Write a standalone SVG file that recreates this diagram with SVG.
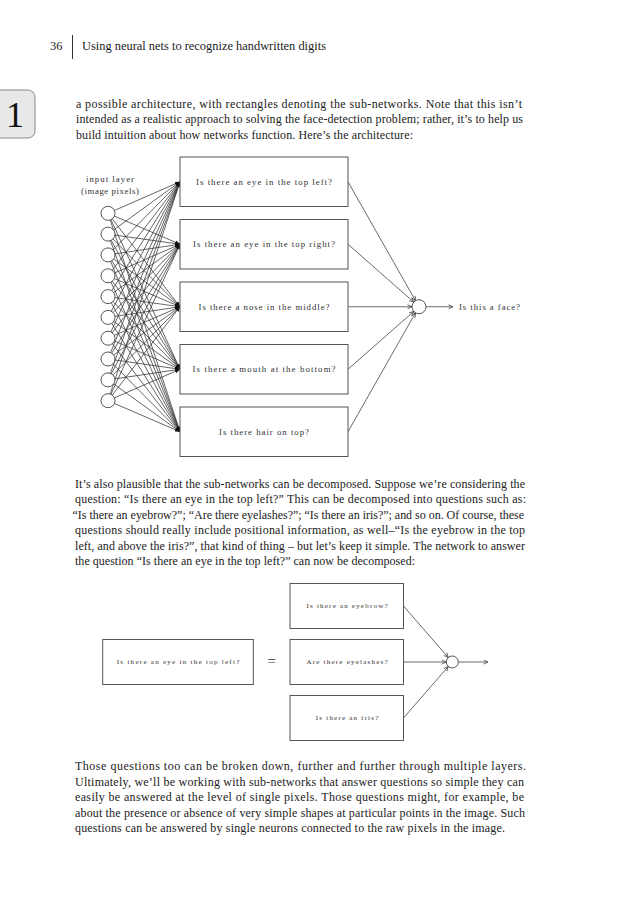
<svg xmlns="http://www.w3.org/2000/svg" width="638" height="901" viewBox="0 0 638 901">
<style>
.body{font-family:"Liberation Serif","Times New Roman",serif;font-size:12px;fill:#222}
.hdr{font-family:"Liberation Serif","Times New Roman",serif;font-size:12.5px;fill:#222}
.dt{font-family:"Liberation Serif","Times New Roman",serif;font-size:8.8px;fill:#333;text-anchor:middle}
.dt2{font-family:"Liberation Serif","Times New Roman",serif;font-size:7px;fill:#333;text-anchor:middle}
.box{fill:#fff;stroke:#555;stroke-width:1}
.neu{fill:#fff;stroke:#444;stroke-width:0.9}
.c{stroke:#333;stroke-width:0.75;fill:none;marker-end:url(#ah)}
.o{stroke:#444;stroke-width:0.8;fill:none;marker-end:url(#ah2)}
</style>
<defs>
<marker id="ah" markerUnits="userSpaceOnUse" markerWidth="5" markerHeight="4" refX="5" refY="2" orient="auto"><path d="M0,0 L5,2 L0,4 z" fill="#111"/></marker>
<marker id="ah2" markerUnits="userSpaceOnUse" markerWidth="5" markerHeight="5" refX="5" refY="2.5" orient="auto"><path d="M0.5,0.5 L5,2.5 L0.5,4.5" fill="none" stroke="#444" stroke-width="0.8"/></marker>
</defs>
<rect width="638" height="901" fill="#fff"/>

<g id="header">
<text class="hdr" x="50" y="50">36</text>
<line x1="72.5" y1="35" x2="72.5" y2="59" stroke="#333" stroke-width="1"/>
<text class="hdr" x="82" y="50" textLength="244" lengthAdjust="spacingAndGlyphs">Using neural nets to recognize handwritten digits</text>
</g>

<g id="tab">
<rect x="-10" y="90" width="45" height="48" rx="7" fill="#e8e8e8" stroke="#8a8a8a" stroke-width="1"/>
<text x="15" y="127" font-family="Liberation Serif, serif" font-size="36" fill="#111" text-anchor="middle">1</text>
</g>

<g id="para1" class="body">
<text x="76" y="107.5" textLength="446" lengthAdjust="spacing">a possible architecture, with rectangles denoting the sub-networks.  Note that this isn’t</text>
<text x="76" y="123" textLength="447" lengthAdjust="spacing">intended as a realistic approach to solving the face-detection problem; rather, it’s to help us</text>
<text x="76" y="138.5" textLength="337" lengthAdjust="spacing">build intuition about how networks function.  Here’s the architecture:</text>
</g>

<g id="connectors1">
<line class="c" x1="108" y1="213.3" x2="180" y2="181.75"/><line class="c" x1="108" y1="213.3" x2="180" y2="244.25"/><line class="c" x1="108" y1="213.3" x2="180" y2="306.75"/><line class="c" x1="108" y1="213.3" x2="180" y2="369.25"/><line class="c" x1="108" y1="213.3" x2="180" y2="431.75"/>
<line class="c" x1="108" y1="234.1" x2="180" y2="181.75"/><line class="c" x1="108" y1="234.1" x2="180" y2="244.25"/><line class="c" x1="108" y1="234.1" x2="180" y2="306.75"/><line class="c" x1="108" y1="234.1" x2="180" y2="369.25"/><line class="c" x1="108" y1="234.1" x2="180" y2="431.75"/>
<line class="c" x1="108" y1="254.9" x2="180" y2="181.75"/><line class="c" x1="108" y1="254.9" x2="180" y2="244.25"/><line class="c" x1="108" y1="254.9" x2="180" y2="306.75"/><line class="c" x1="108" y1="254.9" x2="180" y2="369.25"/><line class="c" x1="108" y1="254.9" x2="180" y2="431.75"/>
<line class="c" x1="108" y1="275.8" x2="180" y2="181.75"/><line class="c" x1="108" y1="275.8" x2="180" y2="244.25"/><line class="c" x1="108" y1="275.8" x2="180" y2="306.75"/><line class="c" x1="108" y1="275.8" x2="180" y2="369.25"/><line class="c" x1="108" y1="275.8" x2="180" y2="431.75"/>
<line class="c" x1="108" y1="296.6" x2="180" y2="181.75"/><line class="c" x1="108" y1="296.6" x2="180" y2="244.25"/><line class="c" x1="108" y1="296.6" x2="180" y2="306.75"/><line class="c" x1="108" y1="296.6" x2="180" y2="369.25"/><line class="c" x1="108" y1="296.6" x2="180" y2="431.75"/>
<line class="c" x1="108" y1="317.4" x2="180" y2="181.75"/><line class="c" x1="108" y1="317.4" x2="180" y2="244.25"/><line class="c" x1="108" y1="317.4" x2="180" y2="306.75"/><line class="c" x1="108" y1="317.4" x2="180" y2="369.25"/><line class="c" x1="108" y1="317.4" x2="180" y2="431.75"/>
<line class="c" x1="108" y1="338.2" x2="180" y2="181.75"/><line class="c" x1="108" y1="338.2" x2="180" y2="244.25"/><line class="c" x1="108" y1="338.2" x2="180" y2="306.75"/><line class="c" x1="108" y1="338.2" x2="180" y2="369.25"/><line class="c" x1="108" y1="338.2" x2="180" y2="431.75"/>
<line class="c" x1="108" y1="359" x2="180" y2="181.75"/><line class="c" x1="108" y1="359" x2="180" y2="244.25"/><line class="c" x1="108" y1="359" x2="180" y2="306.75"/><line class="c" x1="108" y1="359" x2="180" y2="369.25"/><line class="c" x1="108" y1="359" x2="180" y2="431.75"/>
<line class="c" x1="108" y1="379.9" x2="180" y2="181.75"/><line class="c" x1="108" y1="379.9" x2="180" y2="244.25"/><line class="c" x1="108" y1="379.9" x2="180" y2="306.75"/><line class="c" x1="108" y1="379.9" x2="180" y2="369.25"/><line class="c" x1="108" y1="379.9" x2="180" y2="431.75"/>
<line class="c" x1="108" y1="400.7" x2="180" y2="181.75"/><line class="c" x1="108" y1="400.7" x2="180" y2="244.25"/><line class="c" x1="108" y1="400.7" x2="180" y2="306.75"/><line class="c" x1="108" y1="400.7" x2="180" y2="369.25"/><line class="c" x1="108" y1="400.7" x2="180" y2="431.75"/>
<line class="o" x1="348" y1="181.75" x2="415.5" y2="300.7"/>
<line class="o" x1="348" y1="244.25" x2="413.8" y2="302.1"/>
<line class="o" x1="348" y1="306.75" x2="412" y2="306.75"/>
<line class="o" x1="348" y1="369.25" x2="413.8" y2="311.4"/>
<line class="o" x1="348" y1="431.75" x2="415.5" y2="312.8"/>
<line class="o" x1="426" y1="306.75" x2="453" y2="306.75"/>
</g>

<g id="input-layer">
<text class="dt" x="110" y="182" textLength="48" lengthAdjust="spacing">input layer</text>
<text class="dt" x="110" y="193.5" textLength="58" lengthAdjust="spacing">(image pixels)</text>
<circle class="neu" cx="108" cy="213.3" r="7"/>
<circle class="neu" cx="108" cy="234.1" r="7"/>
<circle class="neu" cx="108" cy="254.9" r="7"/>
<circle class="neu" cx="108" cy="275.8" r="7"/>
<circle class="neu" cx="108" cy="296.6" r="7"/>
<circle class="neu" cx="108" cy="317.4" r="7"/>
<circle class="neu" cx="108" cy="338.2" r="7"/>
<circle class="neu" cx="108" cy="359" r="7"/>
<circle class="neu" cx="108" cy="379.9" r="7"/>
<circle class="neu" cx="108" cy="400.7" r="7"/>
</g>

<g id="box-eye-left"><rect class="box" x="180" y="157" width="168" height="49.5"/><text class="dt" x="264" y="184.5" textLength="136" lengthAdjust="spacing">Is there an eye in the top left?</text></g>
<g id="box-eye-right"><rect class="box" x="180" y="219.5" width="168" height="49.5"/><text class="dt" x="264" y="247" textLength="142" lengthAdjust="spacing">Is there an eye in the top right?</text></g>
<g id="box-nose"><rect class="box" x="180" y="282" width="168" height="49.5"/><text class="dt" x="264" y="309.5" textLength="131" lengthAdjust="spacing">Is there a nose in the middle?</text></g>
<g id="box-mouth"><rect class="box" x="180" y="344.5" width="168" height="49.5"/><text class="dt" x="264" y="372" textLength="143" lengthAdjust="spacing">Is there a mouth at the bottom?</text></g>
<g id="box-hair"><rect class="box" x="180" y="407" width="168" height="49.5"/><text class="dt" x="264" y="434.5" textLength="90" lengthAdjust="spacing">Is there hair on top?</text></g>

<g id="face-neuron">
<circle class="neu" cx="419" cy="306.75" r="7"/>
<text class="dt" x="459" y="309.5" style="text-anchor:start" textLength="61" lengthAdjust="spacing">Is this a face?</text>
</g>

<g id="para2" class="body">
<text x="75" y="487.5" textLength="450" lengthAdjust="spacing">It’s also plausible that the sub-networks can be decomposed. Suppose we’re considering the</text>
<text x="75" y="503" textLength="451" lengthAdjust="spacing">question:  “Is there an eye in the top left?” This can be decomposed into questions such as:</text>
<text x="72.5" y="518.5" textLength="451.5" lengthAdjust="spacing">“Is there an eyebrow?”; “Are there eyelashes?”; “Is there an iris?”; and so on. Of course, these</text>
<text x="75" y="534" textLength="450" lengthAdjust="spacing">questions should really include positional information, as well–“Is the eyebrow in the top</text>
<text x="75" y="549.5" textLength="450" lengthAdjust="spacing">left, and above the iris?”, that kind of thing – but let’s keep it simple. The network to answer</text>
<text x="75" y="565" textLength="340" lengthAdjust="spacing">the question “Is there an eye in the top left?” can now be decomposed:</text>
</g>

<g id="connectors2">
<line class="o" x1="403.5" y1="606" x2="448.3" y2="657.5"/>
<line class="o" x1="403.5" y1="662" x2="446.3" y2="662"/>
<line class="o" x1="403.5" y1="718" x2="448.3" y2="666.5"/>
<line class="o" x1="458.3" y1="662" x2="488" y2="662"/>
</g>

<g id="box-eye-left-2"><rect class="box" x="102.7" y="639.5" width="150.6" height="45"/><text class="dt2" x="178" y="664" textLength="122.5" lengthAdjust="spacing">Is there an eye in the top left?</text></g>
<g id="equals"><text x="271.7" y="666" font-family="Liberation Serif, serif" font-size="15" fill="#333" text-anchor="middle">=</text></g>
<g id="box-eyebrow"><rect class="box" x="290" y="583.5" width="113.5" height="45"/><text class="dt2" x="347" y="608.3" textLength="81" lengthAdjust="spacing">Is there an eyebrow?</text></g>
<g id="box-eyelashes"><rect class="box" x="290" y="639.5" width="113.5" height="45"/><text class="dt2" x="347" y="664.3" textLength="81" lengthAdjust="spacing">Are there eyelashes?</text></g>
<g id="box-iris"><rect class="box" x="290" y="695.5" width="113.5" height="45"/><text class="dt2" x="347" y="720.3" textLength="62.5" lengthAdjust="spacing">Is there an iris?</text></g>
<g id="eye-neuron"><circle class="neu" cx="452.3" cy="662" r="6"/></g>

<g id="para3" class="body">
<text x="75" y="770" textLength="451" lengthAdjust="spacing">Those questions too can be broken down, further and further through multiple layers.</text>
<text x="75" y="785.5" textLength="449" lengthAdjust="spacing">Ultimately, we’ll be working with sub-networks that answer questions so simple they can</text>
<text x="75" y="801" textLength="449" lengthAdjust="spacing">easily be answered at the level of single pixels.  Those questions might, for example, be</text>
<text x="75" y="816.5" textLength="450" lengthAdjust="spacing">about the presence or absence of very simple shapes at particular points in the image.  Such</text>
<text x="75" y="832" textLength="430" lengthAdjust="spacing">questions can be answered by single neurons connected to the raw pixels in the image.</text>
</g>
</svg>
